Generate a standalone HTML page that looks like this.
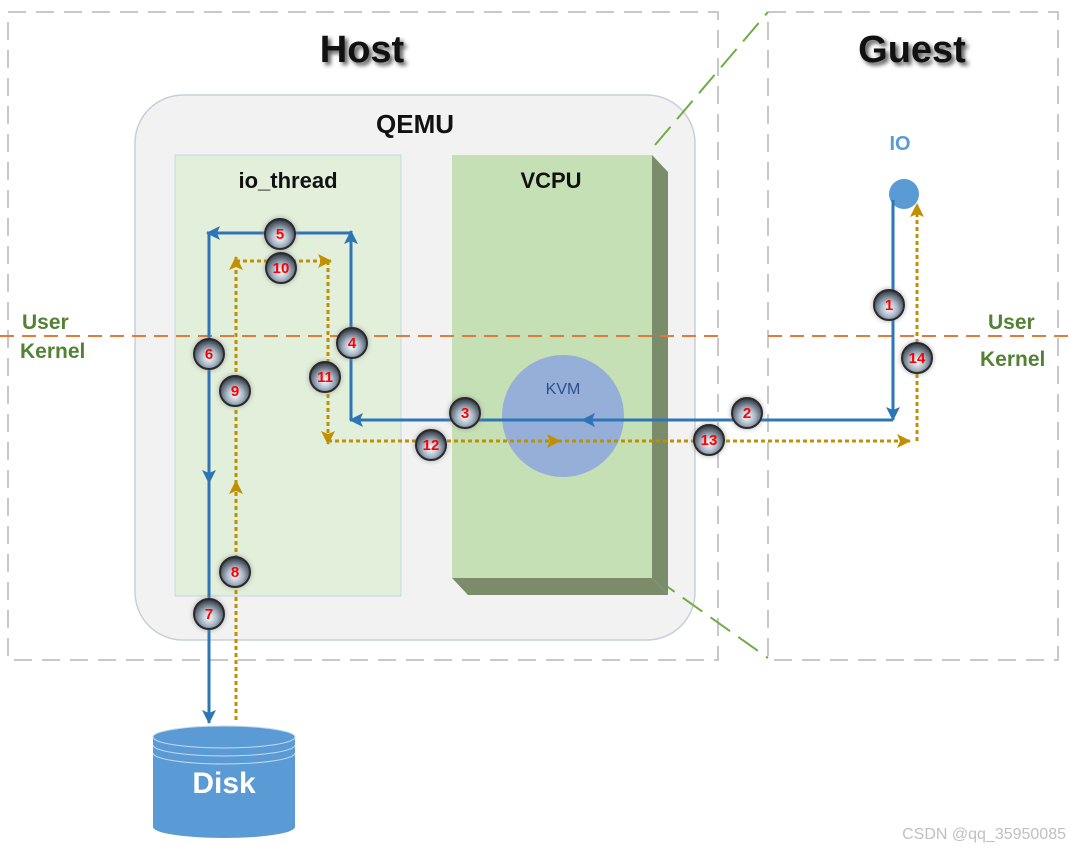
<!DOCTYPE html>
<html><head><meta charset="utf-8"><style>
html,body{margin:0;padding:0;background:#fff;}
svg{display:block;font-family:"Liberation Sans",sans-serif;}
</style></head><body>
<svg width="1070" height="851" viewBox="0 0 1070 851" xmlns="http://www.w3.org/2000/svg">
<defs>
<radialGradient id="bg" cx="0.5" cy="0.62" r="0.6">
<stop offset="0" stop-color="#ffffff"/><stop offset="0.45" stop-color="#a9b8c8"/><stop offset="1" stop-color="#2f3640"/>
</radialGradient>
<marker id="ab" markerWidth="14" markerHeight="14" refX="13" refY="7" orient="auto" markerUnits="userSpaceOnUse"><path d="M0,0 L14,7 L0,14 L3,7 Z" fill="#2e75b6"/></marker>
<marker id="ag" markerWidth="14" markerHeight="14" refX="13" refY="7" orient="auto" markerUnits="userSpaceOnUse"><path d="M0,0 L14,7 L0,14 L3,7 Z" fill="#c09000"/></marker>
<filter id="sh"><feGaussianBlur stdDeviation="2"/></filter>
<filter id="ts"><feGaussianBlur stdDeviation="2"/></filter>
</defs>
<rect x="8" y="12" width="710" height="648" fill="none" stroke="#c8c8c8" stroke-width="2" stroke-dasharray="18,10"/>
<rect x="768" y="12" width="290" height="648" fill="none" stroke="#c8c8c8" stroke-width="2" stroke-dasharray="18,10"/>
<text x="365" y="65" font-size="38" font-weight="bold" text-anchor="middle" fill="#555" filter="url(#ts)">Host</text>
<text x="915" y="65" font-size="38" font-weight="bold" text-anchor="middle" fill="#555" filter="url(#ts)">Guest</text>
<text x="362" y="62" font-size="38" font-weight="bold" text-anchor="middle" fill="#111">Host</text>
<text x="912" y="62" font-size="38" font-weight="bold" text-anchor="middle" fill="#111">Guest</text>
<rect x="135" y="95" width="560" height="545" rx="48" fill="#f2f2f2" stroke="#c8d0dc" stroke-width="1.5"/>
<line x1="655" y1="145" x2="768" y2="12" stroke="#70ad47" stroke-width="2" stroke-dasharray="24,10"/>
<line x1="655" y1="578" x2="768" y2="658" stroke="#70ad47" stroke-width="2" stroke-dasharray="24,10"/>
<text x="415" y="133" font-size="26" font-weight="bold" text-anchor="middle" fill="#111">QEMU</text>
<rect x="175" y="155" width="226" height="441" fill="#e2efda" stroke="#c5d5e5"/>
<text x="288" y="188" font-size="22" font-weight="bold" text-anchor="middle" fill="#111">io_thread</text>
<polygon points="652,155 668,172 668,595 652,578" fill="#7a8c6a"/>
<polygon points="452,578 652,578 668,595 468,595" fill="#7a8c6a"/>
<rect x="452" y="155" width="200" height="423" fill="#c5e0b4"/>
<text x="551" y="188" font-size="22" font-weight="bold" text-anchor="middle" fill="#111">VCPU</text>
<circle cx="563" cy="416" r="61" fill="#8faadc" opacity="0.9"/>
<text x="563" y="394" font-size="16" text-anchor="middle" fill="#2f4f8f">KVM</text>
<line x1="0" y1="336" x2="718" y2="336" stroke="#e07b39" stroke-width="2" stroke-dasharray="14,8"/>
<line x1="768" y1="336" x2="1070" y2="336" stroke="#e07b39" stroke-width="2" stroke-dasharray="14,8"/>
<text x="22" y="329" font-size="21" font-weight="bold" fill="#548235">User</text>
<text x="20" y="358" font-size="21" font-weight="bold" fill="#548235">Kernel</text>
<text x="988" y="329" font-size="21" font-weight="bold" fill="#548235">User</text>
<text x="980" y="366" font-size="21" font-weight="bold" fill="#548235">Kernel</text>
<text x="900" y="150" font-size="20" font-weight="bold" text-anchor="middle" fill="#5b9bd5">IO</text>
<circle cx="904" cy="194" r="15" fill="#5b9bd5"/>
<g stroke="#2e75b6" stroke-width="3" fill="none">
<line x1="893" y1="200" x2="893" y2="420" marker-end="url(#ab)"/>
<line x1="893" y1="420" x2="582" y2="420" marker-end="url(#ab)"/>
<line x1="585" y1="420" x2="350" y2="420" marker-end="url(#ab)"/>
<line x1="351" y1="420" x2="351" y2="231" marker-end="url(#ab)"/>
<line x1="351" y1="233" x2="207" y2="233" marker-end="url(#ab)"/>
<line x1="209" y1="233" x2="209" y2="483" marker-end="url(#ab)"/>
<line x1="209" y1="480" x2="209" y2="723" marker-end="url(#ab)"/>
</g>
<g stroke="#c09000" stroke-width="3" fill="none" stroke-dasharray="4,3">
<line x1="236" y1="720" x2="236" y2="481" marker-end="url(#ag)"/>
<line x1="236" y1="484" x2="236" y2="257" marker-end="url(#ag)"/>
<line x1="236" y1="261" x2="331" y2="261" marker-end="url(#ag)"/>
<line x1="328" y1="261" x2="328" y2="444" marker-end="url(#ag)"/>
<line x1="328" y1="441" x2="560" y2="441" marker-end="url(#ag)"/>
<line x1="558" y1="441" x2="910" y2="441" marker-end="url(#ag)"/>
<line x1="917" y1="441" x2="917" y2="204" marker-end="url(#ag)"/>
</g>
<g font-size="15" font-weight="bold" text-anchor="middle" fill="#ff0000">
<g transform="translate(889,305)"><circle r="17" fill="#888" opacity="0.5" filter="url(#sh)"/><circle r="15" fill="url(#bg)" stroke="#2a2a2a" stroke-width="2"/><text y="5">1</text></g>
<g transform="translate(747,413)"><circle r="17" fill="#888" opacity="0.5" filter="url(#sh)"/><circle r="15" fill="url(#bg)" stroke="#2a2a2a" stroke-width="2"/><text y="5">2</text></g>
<g transform="translate(465,413)"><circle r="17" fill="#888" opacity="0.5" filter="url(#sh)"/><circle r="15" fill="url(#bg)" stroke="#2a2a2a" stroke-width="2"/><text y="5">3</text></g>
<g transform="translate(352,343)"><circle r="17" fill="#888" opacity="0.5" filter="url(#sh)"/><circle r="15" fill="url(#bg)" stroke="#2a2a2a" stroke-width="2"/><text y="5">4</text></g>
<g transform="translate(280,234)"><circle r="17" fill="#888" opacity="0.5" filter="url(#sh)"/><circle r="15" fill="url(#bg)" stroke="#2a2a2a" stroke-width="2"/><text y="5">5</text></g>
<g transform="translate(209,354)"><circle r="17" fill="#888" opacity="0.5" filter="url(#sh)"/><circle r="15" fill="url(#bg)" stroke="#2a2a2a" stroke-width="2"/><text y="5">6</text></g>
<g transform="translate(209,614)"><circle r="17" fill="#888" opacity="0.5" filter="url(#sh)"/><circle r="15" fill="url(#bg)" stroke="#2a2a2a" stroke-width="2"/><text y="5">7</text></g>
<g transform="translate(235,572)"><circle r="17" fill="#888" opacity="0.5" filter="url(#sh)"/><circle r="15" fill="url(#bg)" stroke="#2a2a2a" stroke-width="2"/><text y="5">8</text></g>
<g transform="translate(235,391)"><circle r="17" fill="#888" opacity="0.5" filter="url(#sh)"/><circle r="15" fill="url(#bg)" stroke="#2a2a2a" stroke-width="2"/><text y="5">9</text></g>
<g transform="translate(281,268)"><circle r="17" fill="#888" opacity="0.5" filter="url(#sh)"/><circle r="15" fill="url(#bg)" stroke="#2a2a2a" stroke-width="2"/><text y="5">10</text></g>
<g transform="translate(325,377)"><circle r="17" fill="#888" opacity="0.5" filter="url(#sh)"/><circle r="15" fill="url(#bg)" stroke="#2a2a2a" stroke-width="2"/><text y="5">11</text></g>
<g transform="translate(431,445)"><circle r="17" fill="#888" opacity="0.5" filter="url(#sh)"/><circle r="15" fill="url(#bg)" stroke="#2a2a2a" stroke-width="2"/><text y="5">12</text></g>
<g transform="translate(709,440)"><circle r="17" fill="#888" opacity="0.5" filter="url(#sh)"/><circle r="15" fill="url(#bg)" stroke="#2a2a2a" stroke-width="2"/><text y="5">13</text></g>
<g transform="translate(917,358)"><circle r="17" fill="#888" opacity="0.5" filter="url(#sh)"/><circle r="15" fill="url(#bg)" stroke="#2a2a2a" stroke-width="2"/><text y="5">14</text></g>
</g>
<path d="M153,737 L153,827 A71,11 0 0 0 295,827 L295,737 Z" fill="#5b9bd5"/>
<ellipse cx="224" cy="737" rx="71" ry="11" fill="#5b9bd5" stroke="#c8d8ec" stroke-width="1"/>
<path d="M153,745 A71,11 0 0 0 295,745" fill="none" stroke="#c8d8ec" stroke-width="1"/>
<path d="M153,753 A71,11 0 0 0 295,753" fill="none" stroke="#c8d8ec" stroke-width="1"/>
<text x="224" y="793" font-size="30" font-weight="bold" text-anchor="middle" fill="#fff">Disk</text>
<text x="1066" y="839" font-size="16" text-anchor="end" fill="#c0c0c0">CSDN @qq_35950085</text>
</svg>
</body></html>
